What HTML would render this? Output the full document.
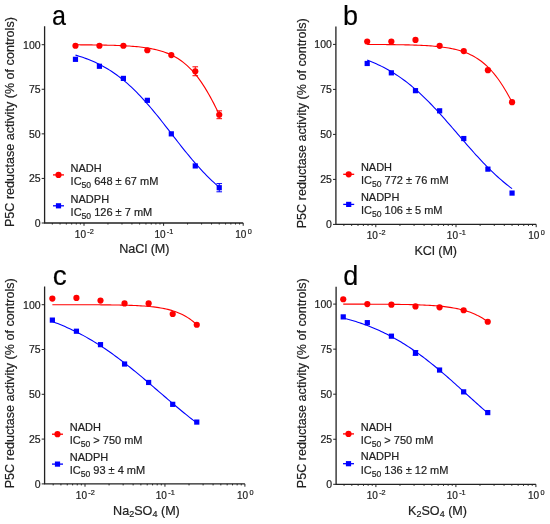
<!DOCTYPE html>
<html><head><meta charset="utf-8"><style>
html,body{margin:0;padding:0;background:#fff;width:550px;height:524px;overflow:hidden}
svg{display:block;will-change:transform}
text{font-family:"Liberation Sans", sans-serif;stroke:#222;stroke-width:0.2px}
</style></head><body>
<svg width="550" height="524" viewBox="0 0 550 524">
<rect width="550" height="524" fill="#fff"/>
<path d="M44.6 26.3V223H243.2" fill="none" stroke="#222" stroke-width="1.3"/>
<path d="M41.7 223H44.6 M41.7 178.43H44.6 M41.7 133.85H44.6 M41.7 89.28H44.6 M41.7 44.7H44.6 M52.32 223v1.5 M60.04 223v1.5 M66.34 223v1.5 M71.67 223v1.5 M76.29 223v1.5 M80.36 223v1.5 M84 223v2.8 M107.96 223v1.5 M121.98 223v1.5 M131.92 223v1.5 M139.64 223v1.5 M145.94 223v1.5 M151.27 223v1.5 M155.89 223v1.5 M159.96 223v1.5 M163.6 223v2.8 M187.56 223v1.5 M201.58 223v1.5 M211.52 223v1.5 M219.24 223v1.5 M225.54 223v1.5 M230.87 223v1.5 M235.49 223v1.5 M239.56 223v1.5 M243.2 223v2.8" fill="none" stroke="#222" stroke-width="1"/>
<text x="40.6" y="226.8" text-anchor="end" font-size="10.5" fill="#222">0</text>
<text x="40.6" y="182.23" text-anchor="end" font-size="10.5" fill="#222">25</text>
<text x="40.6" y="137.65" text-anchor="end" font-size="10.5" fill="#222">50</text>
<text x="40.6" y="93.08" text-anchor="end" font-size="10.5" fill="#222">75</text>
<text x="40.6" y="48.5" text-anchor="end" font-size="10.5" fill="#222">100</text>
<text x="84.3" y="237.6" text-anchor="middle" font-size="10" fill="#222">10<tspan font-size="7.3" dx="1.3" dy="-3.6">-2</tspan></text>
<text x="163.9" y="237.6" text-anchor="middle" font-size="10" fill="#222">10<tspan font-size="7.3" dx="1.3" dy="-3.6">-1</tspan></text>
<text x="243.5" y="237.6" text-anchor="middle" font-size="10" fill="#222">10<tspan font-size="7.3" dx="1.3" dy="-3.6">0</tspan></text>
<text x="119.2" y="253" font-size="12.6" fill="#222">NaCl (M)</text>
<text transform="translate(14.3 227.1) rotate(-90)" font-size="12.6" fill="#222">P5C reductase activity (% of controls)</text>
<text transform="translate(52 25) scale(0.93 1)" font-size="27" fill="#000">a</text>
<path d="M75.47 44.8L77.26 44.81L79.06 44.82L80.86 44.83L82.65 44.84L84.45 44.85L86.25 44.87L88.05 44.88L89.84 44.9L91.64 44.92L93.44 44.94L95.23 44.96L97.03 44.98L98.83 45.01L100.63 45.04L102.42 45.07L104.22 45.1L106.02 45.14L107.81 45.18L109.61 45.22L111.41 45.27L113.21 45.32L115 45.38L116.8 45.44L118.6 45.51L120.39 45.58L122.19 45.67L123.99 45.75L125.79 45.85L127.58 45.96L129.38 46.07L131.18 46.2L132.97 46.33L134.77 46.48L136.57 46.65L138.37 46.82L140.16 47.02L141.96 47.23L143.76 47.46L145.55 47.71L147.35 47.98L149.15 48.28L150.95 48.6L152.74 48.96L154.54 49.34L156.34 49.76L158.13 50.21L159.93 50.7L161.73 51.24L163.53 51.82L165.32 52.44L167.12 53.13L168.92 53.86L170.71 54.66L172.51 55.53L174.31 56.46L176.11 57.47L177.9 58.56L179.7 59.73L181.5 61L183.3 62.35L185.09 63.81L186.89 65.37L188.69 67.04L190.48 68.83L192.28 70.73L194.08 72.76L195.88 74.91L197.67 77.19L199.47 79.61L201.27 82.15L203.06 84.84L204.86 87.65L206.66 90.6L208.46 93.67L210.25 96.88L212.05 100.2L213.85 103.63L215.64 107.17L217.44 110.8L219.24 114.51" fill="none" stroke="#ff0000" stroke-width="1.1"/>
<path d="M75.47 55.11L77.26 55.63L79.06 56.18L80.86 56.75L82.65 57.35L84.45 57.97L86.25 58.62L88.05 59.3L89.84 60.02L91.64 60.76L93.44 61.54L95.23 62.35L97.03 63.19L98.83 64.07L100.63 64.99L102.42 65.94L104.22 66.93L106.02 67.96L107.81 69.04L109.61 70.15L111.41 71.3L113.21 72.5L115 73.74L116.8 75.03L118.6 76.36L120.39 77.74L122.19 79.16L123.99 80.63L125.79 82.14L127.58 83.7L129.38 85.31L131.18 86.96L132.97 88.66L134.77 90.41L136.57 92.2L138.37 94.03L140.16 95.91L141.96 97.82L143.76 99.78L145.55 101.78L147.35 103.82L149.15 105.89L150.95 108L152.74 110.13L154.54 112.3L156.34 114.5L158.13 116.72L159.93 118.96L161.73 121.22L163.53 123.5L165.32 125.79L167.12 128.1L168.92 130.41L170.71 132.72L172.51 135.04L174.31 137.36L176.11 139.67L177.9 141.97L179.7 144.26L181.5 146.54L183.3 148.8L185.09 151.04L186.89 153.26L188.69 155.46L190.48 157.62L192.28 159.76L194.08 161.87L195.88 163.94L197.67 165.97L199.47 167.97L201.27 169.93L203.06 171.84L204.86 173.72L206.66 175.55L208.46 177.34L210.25 179.08L212.05 180.78L213.85 182.43L215.64 184.04L217.44 185.6L219.24 187.11" fill="none" stroke="#0000ff" stroke-width="1.1"/>
<path d="M195.28 66.81V75.72M192.48 66.81h5.6M192.48 75.72h5.6" stroke="#ff0000" stroke-width="1" fill="none"/>
<path d="M219.24 110.85V118.69M216.44 110.85h5.6M216.44 118.69h5.6" stroke="#ff0000" stroke-width="1" fill="none"/>
<path d="M219.24 183.6V191.8M216.44 183.6h5.6M216.44 191.8h5.6" stroke="#0000ff" stroke-width="1" fill="none"/>
<circle cx="75.47" cy="45.77" r="3.1" fill="#ff0000"/>
<circle cx="99.43" cy="45.77" r="3.1" fill="#ff0000"/>
<circle cx="123.39" cy="45.77" r="3.1" fill="#ff0000"/>
<circle cx="147.35" cy="50.23" r="3.1" fill="#ff0000"/>
<circle cx="171.31" cy="55.04" r="3.1" fill="#ff0000"/>
<circle cx="195.28" cy="71.27" r="3.1" fill="#ff0000"/>
<circle cx="219.24" cy="114.77" r="3.1" fill="#ff0000"/>
<rect x="72.87" y="56.72" width="5.2" height="5.2" fill="#0000ff"/>
<rect x="96.83" y="63.67" width="5.2" height="5.2" fill="#0000ff"/>
<rect x="120.79" y="75.8" width="5.2" height="5.2" fill="#0000ff"/>
<rect x="144.75" y="97.73" width="5.2" height="5.2" fill="#0000ff"/>
<rect x="168.71" y="131.25" width="5.2" height="5.2" fill="#0000ff"/>
<rect x="192.68" y="163.34" width="5.2" height="5.2" fill="#0000ff"/>
<rect x="216.64" y="185.1" width="5.2" height="5.2" fill="#0000ff"/>
<path d="M53 174.9h11" stroke="#ff0000" stroke-width="1.3"/>
<circle cx="58.5" cy="174.9" r="3.1" fill="#ff0000"/>
<path d="M53 205.8h11" stroke="#0000ff" stroke-width="1.3"/>
<rect x="55.9" y="203.2" width="5.2" height="5.2" fill="#0000ff"/>
<text x="70.6" y="171.6" font-size="11" fill="#222">NADH</text>
<text x="70.6" y="184.9" font-size="11" fill="#222">IC<tspan font-size="8.6" dy="2.8">50</tspan><tspan dy="-2.8"> 648 ± 67 mM</tspan></text>
<text x="70.6" y="202.5" font-size="11" fill="#222">NADPH</text>
<text x="70.6" y="215.8" font-size="11" fill="#222">IC<tspan font-size="8.6" dy="2.8">50</tspan><tspan dy="-2.8"> 126 ± 7 mM</tspan></text>
<path d="M335.9 26.4V224.4H536.2" fill="none" stroke="#222" stroke-width="1.3"/>
<path d="M333 224.4H335.9 M333 179.4H335.9 M333 134.4H335.9 M333 89.4H335.9 M333 44.4H335.9 M343.89 224.4v1.5 M351.66 224.4v1.5 M358.01 224.4v1.5 M363.38 224.4v1.5 M368.03 224.4v1.5 M372.13 224.4v1.5 M375.8 224.4v2.8 M399.94 224.4v1.5 M414.07 224.4v1.5 M424.09 224.4v1.5 M431.86 224.4v1.5 M438.21 224.4v1.5 M443.58 224.4v1.5 M448.23 224.4v1.5 M452.33 224.4v1.5 M456 224.4v2.8 M480.14 224.4v1.5 M494.27 224.4v1.5 M504.29 224.4v1.5 M512.06 224.4v1.5 M518.41 224.4v1.5 M523.78 224.4v1.5 M528.43 224.4v1.5 M532.53 224.4v1.5 M536.2 224.4v2.8" fill="none" stroke="#222" stroke-width="1"/>
<text x="331.9" y="228.2" text-anchor="end" font-size="10.5" fill="#222">0</text>
<text x="331.9" y="183.2" text-anchor="end" font-size="10.5" fill="#222">25</text>
<text x="331.9" y="138.2" text-anchor="end" font-size="10.5" fill="#222">50</text>
<text x="331.9" y="93.2" text-anchor="end" font-size="10.5" fill="#222">75</text>
<text x="331.9" y="48.2" text-anchor="end" font-size="10.5" fill="#222">100</text>
<text x="376.1" y="239" text-anchor="middle" font-size="10" fill="#222">10<tspan font-size="7.3" dx="1.3" dy="-3.6">-2</tspan></text>
<text x="456.3" y="239" text-anchor="middle" font-size="10" fill="#222">10<tspan font-size="7.3" dx="1.3" dy="-3.6">-1</tspan></text>
<text x="536.5" y="239" text-anchor="middle" font-size="10" fill="#222">10<tspan font-size="7.3" dx="1.3" dy="-3.6">0</tspan></text>
<text x="414.4" y="255.2" font-size="12.6" fill="#222">KCl (M)</text>
<text transform="translate(305.5 228.3) rotate(-90)" font-size="12.6" fill="#222">P5C reductase activity (% of controls)</text>
<text transform="translate(342.9 24.8) scale(1 1)" font-size="27" fill="#000">b</text>
<path d="M367.2 44.47L369.01 44.47L370.82 44.48L372.63 44.49L374.44 44.5L376.26 44.5L378.07 44.51L379.88 44.52L381.69 44.54L383.5 44.55L385.31 44.56L387.12 44.58L388.93 44.59L390.74 44.61L392.55 44.63L394.36 44.65L396.17 44.68L397.98 44.7L399.79 44.73L401.6 44.76L403.42 44.8L405.23 44.84L407.04 44.88L408.85 44.92L410.66 44.97L412.47 45.02L414.28 45.08L416.09 45.14L417.9 45.21L419.71 45.29L421.52 45.37L423.33 45.46L425.14 45.56L426.95 45.67L428.77 45.78L430.58 45.91L432.39 46.05L434.2 46.21L436.01 46.37L437.82 46.55L439.63 46.75L441.44 46.97L443.25 47.21L445.06 47.47L446.87 47.75L448.68 48.05L450.49 48.39L452.3 48.75L454.12 49.15L455.93 49.58L457.74 50.05L459.55 50.56L461.36 51.11L463.17 51.72L464.98 52.37L466.79 53.08L468.6 53.85L470.41 54.68L472.22 55.58L474.03 56.56L475.84 57.61L477.65 58.75L479.46 59.98L481.28 61.3L483.09 62.72L484.9 64.24L486.71 65.88L488.52 67.63L490.33 69.5L492.14 71.49L493.95 73.61L495.76 75.87L497.57 78.26L499.38 80.78L501.19 83.45L503 86.25L504.81 89.19L506.63 92.27L508.44 95.47L510.25 98.81L512.06 102.26" fill="none" stroke="#ff0000" stroke-width="1.1"/>
<path d="M367.2 60.12L369.01 60.8L370.82 61.51L372.63 62.25L374.44 63.02L376.26 63.81L378.07 64.64L379.88 65.49L381.69 66.38L383.5 67.3L385.31 68.25L387.12 69.23L388.93 70.25L390.74 71.31L392.55 72.39L394.36 73.52L396.17 74.68L397.98 75.88L399.79 77.11L401.6 78.38L403.42 79.69L405.23 81.03L407.04 82.42L408.85 83.84L410.66 85.3L412.47 86.8L414.28 88.33L416.09 89.91L417.9 91.51L419.71 93.16L421.52 94.84L423.33 96.56L425.14 98.31L426.95 100.09L428.77 101.91L430.58 103.75L432.39 105.63L434.2 107.53L436.01 109.46L437.82 111.42L439.63 113.4L441.44 115.4L443.25 117.42L445.06 119.46L446.87 121.52L448.68 123.58L450.49 125.67L452.3 127.76L454.12 129.85L455.93 131.95L457.74 134.06L459.55 136.16L461.36 138.27L463.17 140.37L464.98 142.46L466.79 144.54L468.6 146.62L470.41 148.68L472.22 150.72L474.03 152.75L475.84 154.76L477.65 156.74L479.46 158.71L481.28 160.65L483.09 162.56L484.9 164.44L486.71 166.3L488.52 168.13L490.33 169.92L492.14 171.68L493.95 173.41L495.76 175.1L497.57 176.76L499.38 178.38L501.19 179.96L503 181.51L504.81 183.02L506.63 184.49L508.44 185.93L510.25 187.32L512.06 188.68" fill="none" stroke="#0000ff" stroke-width="1.1"/>
<circle cx="367.2" cy="41.52" r="3.1" fill="#ff0000"/>
<circle cx="391.34" cy="41.52" r="3.1" fill="#ff0000"/>
<circle cx="415.49" cy="39.9" r="3.1" fill="#ff0000"/>
<circle cx="439.63" cy="45.84" r="3.1" fill="#ff0000"/>
<circle cx="463.77" cy="51.06" r="3.1" fill="#ff0000"/>
<circle cx="487.91" cy="70.14" r="3.1" fill="#ff0000"/>
<circle cx="512.06" cy="102.18" r="3.1" fill="#ff0000"/>
<rect x="364.6" y="60.88" width="5.2" height="5.2" fill="#0000ff"/>
<rect x="388.74" y="70.24" width="5.2" height="5.2" fill="#0000ff"/>
<rect x="412.89" y="88.06" width="5.2" height="5.2" fill="#0000ff"/>
<rect x="437.03" y="108.22" width="5.2" height="5.2" fill="#0000ff"/>
<rect x="461.17" y="135.94" width="5.2" height="5.2" fill="#0000ff"/>
<rect x="485.31" y="166.54" width="5.2" height="5.2" fill="#0000ff"/>
<rect x="509.46" y="190.48" width="5.2" height="5.2" fill="#0000ff"/>
<path d="M343.2 174.3h11" stroke="#ff0000" stroke-width="1.3"/>
<circle cx="348.7" cy="174.3" r="3.1" fill="#ff0000"/>
<path d="M343.2 204.4h11" stroke="#0000ff" stroke-width="1.3"/>
<rect x="346.1" y="201.8" width="5.2" height="5.2" fill="#0000ff"/>
<text x="360.9" y="171" font-size="11" fill="#222">NADH</text>
<text x="360.9" y="184.3" font-size="11" fill="#222">IC<tspan font-size="8.6" dy="2.8">50</tspan><tspan dy="-2.8"> 772 ± 76 mM</tspan></text>
<text x="360.9" y="201.1" font-size="11" fill="#222">NADPH</text>
<text x="360.9" y="214.4" font-size="11" fill="#222">IC<tspan font-size="8.6" dy="2.8">50</tspan><tspan dy="-2.8"> 106 ± 5 mM</tspan></text>
<path d="M44.6 286.4V483.9H244.9" fill="none" stroke="#222" stroke-width="1.3"/>
<path d="M41.7 483.9H44.6 M41.7 439.1H44.6 M41.7 394.3H44.6 M41.7 349.5H44.6 M41.7 304.7H44.6 M53.18 483.9v1.5 M60.93 483.9v1.5 M67.26 483.9v1.5 M72.62 483.9v1.5 M77.25 483.9v1.5 M81.34 483.9v1.5 M85 483.9v2.8 M109.07 483.9v1.5 M123.15 483.9v1.5 M133.13 483.9v1.5 M140.88 483.9v1.5 M147.21 483.9v1.5 M152.57 483.9v1.5 M157.2 483.9v1.5 M161.29 483.9v1.5 M164.95 483.9v2.8 M189.02 483.9v1.5 M203.1 483.9v1.5 M213.08 483.9v1.5 M220.83 483.9v1.5 M227.16 483.9v1.5 M232.52 483.9v1.5 M237.15 483.9v1.5 M241.24 483.9v1.5 M244.9 483.9v2.8" fill="none" stroke="#222" stroke-width="1"/>
<text x="40.6" y="487.7" text-anchor="end" font-size="10.5" fill="#222">0</text>
<text x="40.6" y="442.9" text-anchor="end" font-size="10.5" fill="#222">25</text>
<text x="40.6" y="398.1" text-anchor="end" font-size="10.5" fill="#222">50</text>
<text x="40.6" y="353.3" text-anchor="end" font-size="10.5" fill="#222">75</text>
<text x="40.6" y="308.5" text-anchor="end" font-size="10.5" fill="#222">100</text>
<text x="85.3" y="498.5" text-anchor="middle" font-size="10" fill="#222">10<tspan font-size="7.3" dx="1.3" dy="-3.6">-2</tspan></text>
<text x="165.25" y="498.5" text-anchor="middle" font-size="10" fill="#222">10<tspan font-size="7.3" dx="1.3" dy="-3.6">-1</tspan></text>
<text x="245.2" y="498.5" text-anchor="middle" font-size="10" fill="#222">10<tspan font-size="7.3" dx="1.3" dy="-3.6">0</tspan></text>
<text x="113.1" y="514.5" font-size="12.6" fill="#222">Na<tspan font-size="9" dy="2.8">2</tspan><tspan dy="-2.8">SO</tspan><tspan font-size="9" dy="2.8">4</tspan><tspan dy="-2.8"> (M)</tspan></text>
<text transform="translate(14.3 488.3) rotate(-90)" font-size="12.6" fill="#222">P5C reductase activity (% of controls)</text>
<text transform="translate(52.7 284.7) scale(1 1)" font-size="28" fill="#000">c</text>
<path d="M52.36 304.71L54.17 304.71L55.97 304.71L57.78 304.71L59.58 304.72L61.39 304.72L63.19 304.72L65 304.72L66.8 304.72L68.61 304.72L70.41 304.73L72.22 304.73L74.02 304.73L75.83 304.74L77.63 304.74L79.44 304.74L81.24 304.75L83.05 304.75L84.85 304.76L86.66 304.76L88.46 304.77L90.27 304.78L92.07 304.79L93.88 304.79L95.68 304.8L97.49 304.81L99.29 304.82L101.1 304.84L102.9 304.85L104.71 304.87L106.51 304.88L108.32 304.9L110.12 304.92L111.93 304.94L113.73 304.97L115.54 305L117.34 305.03L119.15 305.06L120.95 305.1L122.76 305.14L124.56 305.18L126.37 305.23L128.17 305.28L129.98 305.34L131.78 305.4L133.59 305.47L135.39 305.55L137.2 305.64L139 305.73L140.81 305.84L142.61 305.95L144.42 306.07L146.22 306.21L148.03 306.36L149.83 306.53L151.64 306.71L153.44 306.91L155.25 307.13L157.05 307.37L158.86 307.64L160.66 307.93L162.47 308.25L164.27 308.6L166.08 308.99L167.88 309.41L169.69 309.87L171.49 310.37L173.3 310.93L175.1 311.53L176.91 312.19L178.71 312.91L180.52 313.7L182.32 314.56L184.13 315.5L185.93 316.51L187.74 317.62L189.55 318.82L191.35 320.13L193.16 321.54L194.96 323.06L196.77 324.71" fill="none" stroke="#ff0000" stroke-width="1.1"/>
<path d="M52.36 321.56L54.17 322.22L55.97 322.91L57.78 323.61L59.58 324.33L61.39 325.06L63.19 325.82L65 326.59L66.8 327.39L68.61 328.2L70.41 329.03L72.22 329.88L74.02 330.74L75.83 331.63L77.63 332.54L79.44 333.47L81.24 334.42L83.05 335.38L84.85 336.37L86.66 337.38L88.46 338.41L90.27 339.45L92.07 340.52L93.88 341.61L95.68 342.72L97.49 343.85L99.29 344.99L101.1 346.16L102.9 347.35L104.71 348.56L106.51 349.78L108.32 351.03L110.12 352.29L111.93 353.57L113.73 354.87L115.54 356.19L117.34 357.52L119.15 358.87L120.95 360.24L122.76 361.62L124.56 363.02L126.37 364.43L128.17 365.86L129.98 367.3L131.78 368.75L133.59 370.21L135.39 371.69L137.2 373.18L139 374.68L140.81 376.18L142.61 377.7L144.42 379.22L146.22 380.75L148.03 382.29L149.83 383.83L151.64 385.37L153.44 386.92L155.25 388.47L157.05 390.03L158.86 391.58L160.66 393.13L162.47 394.69L164.27 396.24L166.08 397.79L167.88 399.33L169.69 400.88L171.49 402.41L173.3 403.94L175.1 405.46L176.91 406.98L178.71 408.49L180.52 409.98L182.32 411.47L184.13 412.95L185.93 414.42L187.74 415.87L189.55 417.31L191.35 418.74L193.16 420.15L194.96 421.55L196.77 422.93" fill="none" stroke="#0000ff" stroke-width="1.1"/>
<circle cx="52.36" cy="298.61" r="3.1" fill="#ff0000"/>
<circle cx="76.43" cy="297.89" r="3.1" fill="#ff0000"/>
<circle cx="100.5" cy="300.58" r="3.1" fill="#ff0000"/>
<circle cx="124.56" cy="303.45" r="3.1" fill="#ff0000"/>
<circle cx="148.63" cy="303.45" r="3.1" fill="#ff0000"/>
<circle cx="172.7" cy="314.02" r="3.1" fill="#ff0000"/>
<circle cx="196.77" cy="324.77" r="3.1" fill="#ff0000"/>
<rect x="49.76" y="317.51" width="5.2" height="5.2" fill="#0000ff"/>
<rect x="73.83" y="328.62" width="5.2" height="5.2" fill="#0000ff"/>
<rect x="97.9" y="342.06" width="5.2" height="5.2" fill="#0000ff"/>
<rect x="121.96" y="361.42" width="5.2" height="5.2" fill="#0000ff"/>
<rect x="146.03" y="379.87" width="5.2" height="5.2" fill="#0000ff"/>
<rect x="170.1" y="401.74" width="5.2" height="5.2" fill="#0000ff"/>
<rect x="194.17" y="419.48" width="5.2" height="5.2" fill="#0000ff"/>
<path d="M52 434.2h11" stroke="#ff0000" stroke-width="1.3"/>
<circle cx="57.5" cy="434.2" r="3.1" fill="#ff0000"/>
<path d="M52 464.1h11" stroke="#0000ff" stroke-width="1.3"/>
<rect x="54.9" y="461.5" width="5.2" height="5.2" fill="#0000ff"/>
<text x="69.7" y="430.9" font-size="11" fill="#222">NADH</text>
<text x="69.7" y="444.2" font-size="11" fill="#222">IC<tspan font-size="8.6" dy="2.8">50</tspan><tspan dy="-2.8"> &gt; 750 mM</tspan></text>
<text x="69.7" y="460.8" font-size="11" fill="#222">NADPH</text>
<text x="69.7" y="474.1" font-size="11" fill="#222">IC<tspan font-size="8.6" dy="2.8">50</tspan><tspan dy="-2.8"> 93 ± 4 mM</tspan></text>
<path d="M336.1 286.7V484.3H535.9" fill="none" stroke="#222" stroke-width="1.3"/>
<path d="M333.2 484.3H336.1 M333.2 439.25H336.1 M333.2 394.2H336.1 M333.2 349.15H336.1 M333.2 304.1H336.1 M344.06 484.3v1.5 M351.82 484.3v1.5 M358.15 484.3v1.5 M363.51 484.3v1.5 M368.15 484.3v1.5 M372.24 484.3v1.5 M375.9 484.3v2.8 M399.98 484.3v1.5 M414.07 484.3v1.5 M424.06 484.3v1.5 M431.82 484.3v1.5 M438.15 484.3v1.5 M443.51 484.3v1.5 M448.15 484.3v1.5 M452.24 484.3v1.5 M455.9 484.3v2.8 M479.98 484.3v1.5 M494.07 484.3v1.5 M504.06 484.3v1.5 M511.82 484.3v1.5 M518.15 484.3v1.5 M523.51 484.3v1.5 M528.15 484.3v1.5 M532.24 484.3v1.5 M535.9 484.3v2.8" fill="none" stroke="#222" stroke-width="1"/>
<text x="332.1" y="488.1" text-anchor="end" font-size="10.5" fill="#222">0</text>
<text x="332.1" y="443.05" text-anchor="end" font-size="10.5" fill="#222">25</text>
<text x="332.1" y="398" text-anchor="end" font-size="10.5" fill="#222">50</text>
<text x="332.1" y="352.95" text-anchor="end" font-size="10.5" fill="#222">75</text>
<text x="332.1" y="307.9" text-anchor="end" font-size="10.5" fill="#222">100</text>
<text x="376.2" y="498.9" text-anchor="middle" font-size="10" fill="#222">10<tspan font-size="7.3" dx="1.3" dy="-3.6">-2</tspan></text>
<text x="456.2" y="498.9" text-anchor="middle" font-size="10" fill="#222">10<tspan font-size="7.3" dx="1.3" dy="-3.6">-1</tspan></text>
<text x="536.2" y="498.9" text-anchor="middle" font-size="10" fill="#222">10<tspan font-size="7.3" dx="1.3" dy="-3.6">0</tspan></text>
<text x="408" y="514.6" font-size="12.6" fill="#222">K<tspan font-size="9" dy="2.8">2</tspan><tspan dy="-2.8">SO</tspan><tspan font-size="9" dy="2.8">4</tspan><tspan dy="-2.8"> (M)</tspan></text>
<text transform="translate(305.5 488.2) rotate(-90)" font-size="12.6" fill="#222">P5C reductase activity (% of controls)</text>
<text transform="translate(343.2 284.9) scale(1 1)" font-size="27" fill="#000">d</text>
<path d="M343.24 304.12L345.05 304.12L346.85 304.13L348.66 304.13L350.47 304.13L352.27 304.13L354.08 304.14L355.88 304.14L357.69 304.14L359.5 304.15L361.3 304.15L363.11 304.16L364.91 304.16L366.72 304.17L368.53 304.17L370.33 304.18L372.14 304.19L373.95 304.19L375.75 304.2L377.56 304.21L379.36 304.22L381.17 304.23L382.98 304.24L384.78 304.26L386.59 304.27L388.4 304.28L390.2 304.3L392.01 304.32L393.81 304.34L395.62 304.36L397.43 304.38L399.23 304.41L401.04 304.43L402.84 304.46L404.65 304.5L406.46 304.53L408.26 304.57L410.07 304.61L411.88 304.65L413.68 304.7L415.49 304.76L417.29 304.81L419.1 304.88L420.91 304.95L422.71 305.02L424.52 305.1L426.33 305.19L428.13 305.28L429.94 305.39L431.74 305.5L433.55 305.62L435.36 305.76L437.16 305.9L438.97 306.06L440.77 306.23L442.58 306.42L444.39 306.62L446.19 306.84L448 307.08L449.81 307.34L451.61 307.62L453.42 307.92L455.22 308.25L457.03 308.61L458.84 309L460.64 309.42L462.45 309.87L464.25 310.37L466.06 310.9L467.87 311.48L469.67 312.1L471.48 312.77L473.29 313.5L475.09 314.29L476.9 315.13L478.7 316.04L480.51 317.02L482.32 318.08L484.12 319.21L485.93 320.42L487.74 321.73" fill="none" stroke="#ff0000" stroke-width="1.1"/>
<path d="M343.24 317.96L345.05 318.43L346.85 318.92L348.66 319.42L350.47 319.94L352.27 320.47L354.08 321.02L355.88 321.59L357.69 322.17L359.5 322.77L361.3 323.39L363.11 324.03L364.91 324.68L366.72 325.35L368.53 326.05L370.33 326.76L372.14 327.49L373.95 328.24L375.75 329.01L377.56 329.8L379.36 330.61L381.17 331.45L382.98 332.3L384.78 333.18L386.59 334.08L388.4 335L390.2 335.94L392.01 336.91L393.81 337.89L395.62 338.9L397.43 339.94L399.23 340.99L401.04 342.07L402.84 343.17L404.65 344.3L406.46 345.45L408.26 346.62L410.07 347.81L411.88 349.03L413.68 350.27L415.49 351.53L417.29 352.81L419.1 354.11L420.91 355.44L422.71 356.79L424.52 358.15L426.33 359.54L428.13 360.95L429.94 362.37L431.74 363.82L433.55 365.28L435.36 366.76L437.16 368.25L438.97 369.76L440.77 371.29L442.58 372.83L444.39 374.38L446.19 375.95L448 377.53L449.81 379.12L451.61 380.71L453.42 382.32L455.22 383.93L457.03 385.56L458.84 387.18L460.64 388.81L462.45 390.45L464.25 392.09L466.06 393.73L467.87 395.37L469.67 397L471.48 398.64L473.29 400.27L475.09 401.9L476.9 403.53L478.7 405.15L480.51 406.76L482.32 408.36L484.12 409.96L485.93 411.54L487.74 413.11" fill="none" stroke="#0000ff" stroke-width="1.1"/>
<path d="M415.49 350.59V355.28M412.69 350.59h5.6M412.69 355.28h5.6" stroke="#0000ff" stroke-width="1" fill="none"/>
<circle cx="343.24" cy="299.23" r="3.1" fill="#ff0000"/>
<circle cx="367.32" cy="304.1" r="3.1" fill="#ff0000"/>
<circle cx="391.41" cy="304.64" r="3.1" fill="#ff0000"/>
<circle cx="415.49" cy="306.44" r="3.1" fill="#ff0000"/>
<circle cx="439.57" cy="307.34" r="3.1" fill="#ff0000"/>
<circle cx="463.65" cy="310.23" r="3.1" fill="#ff0000"/>
<circle cx="487.74" cy="321.76" r="3.1" fill="#ff0000"/>
<rect x="340.64" y="314.29" width="5.2" height="5.2" fill="#0000ff"/>
<rect x="364.72" y="320.06" width="5.2" height="5.2" fill="#0000ff"/>
<rect x="388.81" y="333.58" width="5.2" height="5.2" fill="#0000ff"/>
<rect x="412.89" y="350.33" width="5.2" height="5.2" fill="#0000ff"/>
<rect x="436.97" y="367.45" width="5.2" height="5.2" fill="#0000ff"/>
<rect x="461.05" y="389.26" width="5.2" height="5.2" fill="#0000ff"/>
<rect x="485.14" y="409.98" width="5.2" height="5.2" fill="#0000ff"/>
<path d="M343 433.9h11" stroke="#ff0000" stroke-width="1.3"/>
<circle cx="348.5" cy="433.9" r="3.1" fill="#ff0000"/>
<path d="M343 463.7h11" stroke="#0000ff" stroke-width="1.3"/>
<rect x="345.9" y="461.1" width="5.2" height="5.2" fill="#0000ff"/>
<text x="360.7" y="430.6" font-size="11" fill="#222">NADH</text>
<text x="360.7" y="443.9" font-size="11" fill="#222">IC<tspan font-size="8.6" dy="2.8">50</tspan><tspan dy="-2.8"> &gt; 750 mM</tspan></text>
<text x="360.7" y="460.4" font-size="11" fill="#222">NADPH</text>
<text x="360.7" y="473.7" font-size="11" fill="#222">IC<tspan font-size="8.6" dy="2.8">50</tspan><tspan dy="-2.8"> 136 ± 12 mM</tspan></text>
</svg>
</body></html>
